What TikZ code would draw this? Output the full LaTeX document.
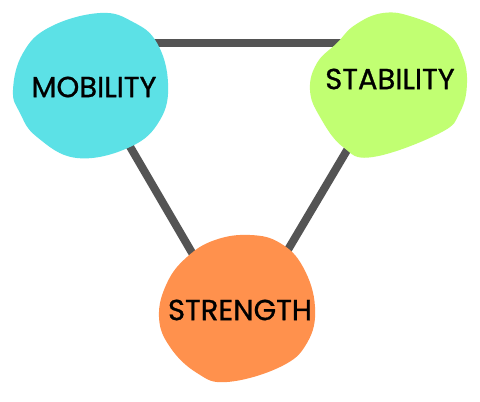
\documentclass[tikz,border=0pt]{standalone}
\usepackage{fontspec}
\setmainfont{Poppins}
\newfontfamily\lblfont{Poppins}[FakeBold=0.9]
\definecolor{blobcyan}{HTML}{5CE1E6}
\definecolor{blobgreen}{HTML}{C1FF72}
\definecolor{bloborange}{HTML}{FF914D}
\definecolor{linkgray}{HTML}{545454}
\begin{document}
\begin{tikzpicture}[x=1pt,y=-1pt,
  connector/.style={draw=linkgray,line width=8pt},
  lbl/.style={font=\lblfont\fontsize{29}{32}\selectfont,text=black,inner sep=0pt},
  blobshape/.style={smooth cycle,tension=0.7}]
\useasboundingbox (0,0) rectangle (480,402);
\fill[white] (0,0) rectangle (480,402);
% connector end points (hidden under blobs)
\coordinate (mobA) at (120,43);
\coordinate (stabA) at (360,43);
\coordinate (mobB) at (118,126);
\coordinate (strB) at (205,275);
\coordinate (stabC) at (359,130);
\coordinate (strC) at (273,275);
\draw[connector] (mobA) -- (stabA);
\draw[connector] (mobB) -- (strB);
\draw[connector] (stabC) -- (strC);
% blobs
\fill[blobcyan] plot[blobshape] coordinates {(100,13) (133,22) (157,43) (168,83) (160,120) (130,147) (77,158) (37,137) (20,113) (13,90) (23,53) (50,27)};
\fill[blobgreen] plot[blobshape] coordinates {(383,13) (413,17) (447,33) (462,55) (467,83) (460,112) (440,133) (373,157) (343,147) (320,117) (310,90) (317,63) (337,43) (355,25)};
\fill[bloborange] plot[blobshape] coordinates {(250,235) (280,243) (303,267) (315,307) (307,343) (280,367) (227,382) (197,373) (170,347) (159,317) (167,283) (187,257) (215,240)};
% labels
\node[lbl] (mobility) at (94,87) {MOBILITY};
\node[lbl] (stability) at (390,79) {STABILITY};
\node[lbl] (strength) at (240,310) {STRENGTH};
\end{tikzpicture}
\end{document}
